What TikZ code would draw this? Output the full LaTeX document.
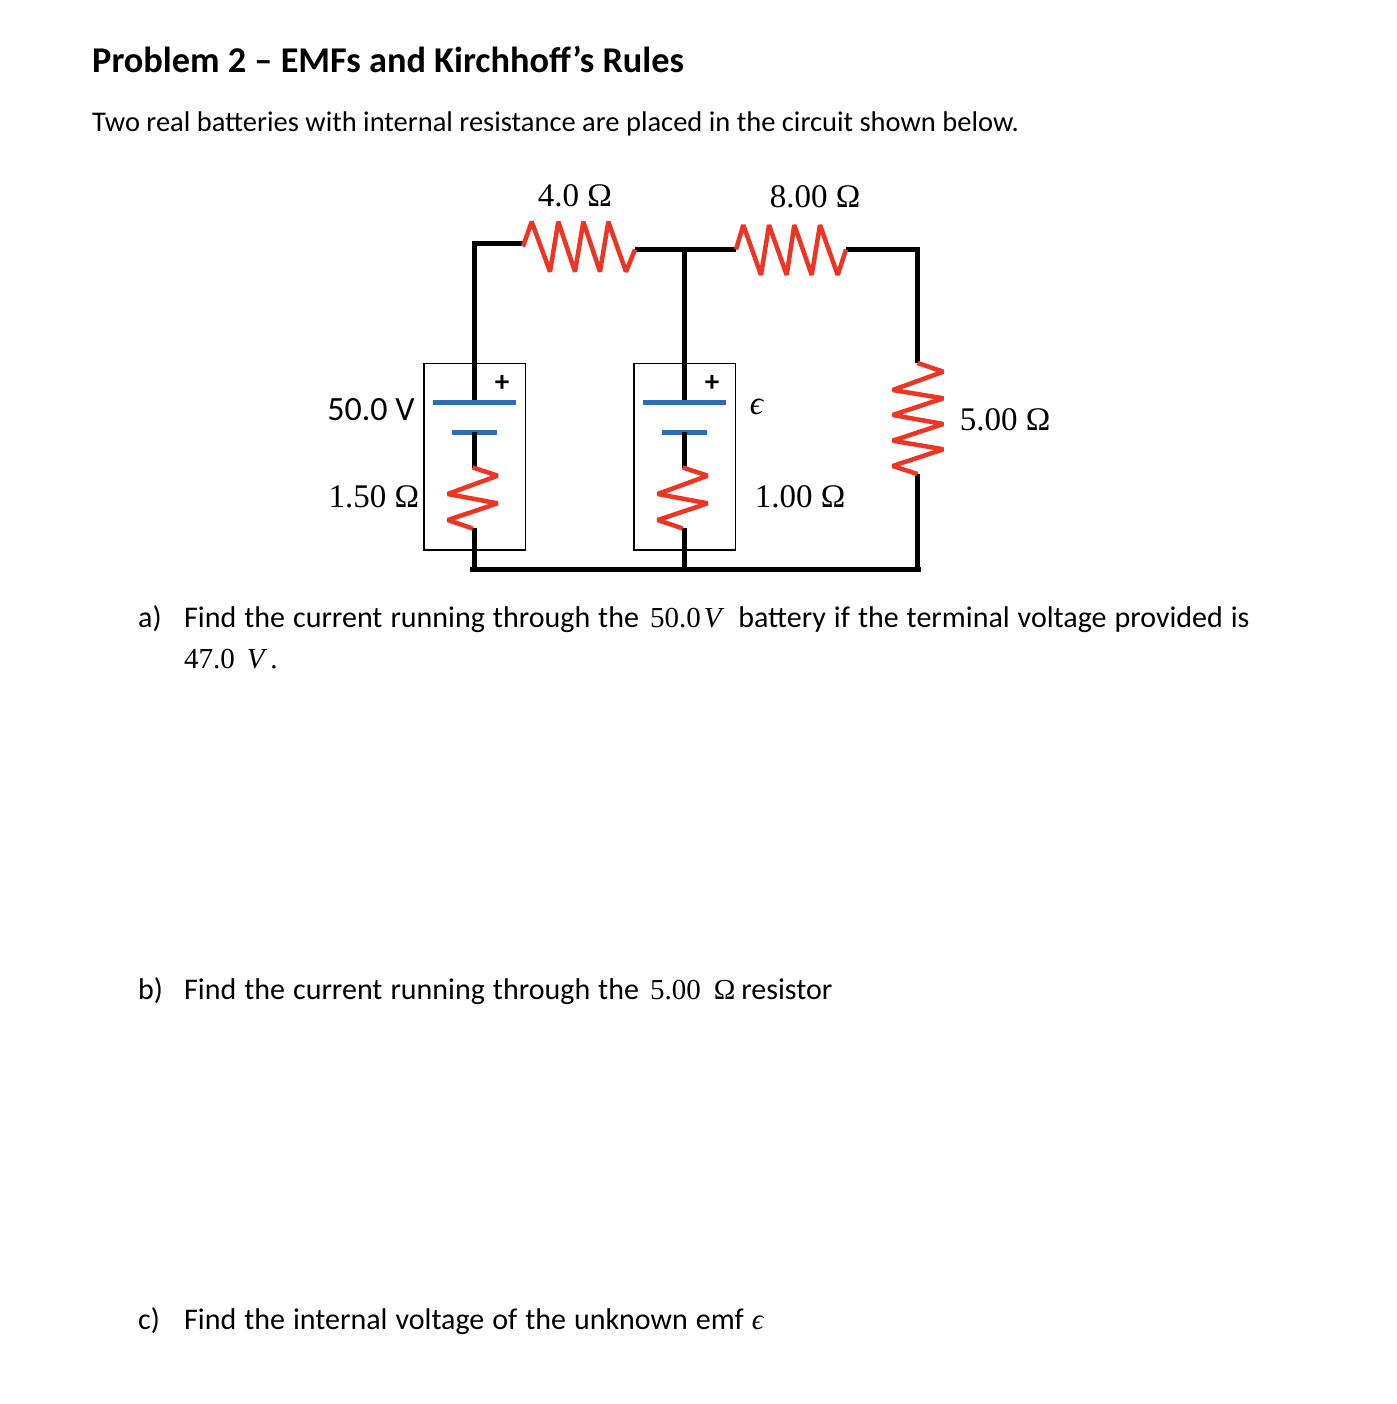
\documentclass[tikz,border=0pt]{standalone}
\usepackage{fontspec}
\setmainfont{Carlito}
\newfontfamily\cambria{Liberation Serif}
\newcommand{\qmath}[1]{{\fontsize{29}{29}\cambria\selectfont #1}}
\tikzset{
  wire/.style={line width=5pt},
  thinbox/.style={line width=1.5pt},
  zig/.style={line width=4.5pt, draw=zigred, line join=bevel},
  plate/.style={line width=5pt, draw=plateblue},
  txt/.style={anchor=base west, inner sep=0pt, font=\fontsize{28.5}{29}\selectfont},
  qtxt/.style={txt, font=\fontsize{30}{30}\selectfont\spaceskip 8pt},
  val/.style={anchor=base, inner sep=0pt, font=\fontsize{33}{33}\selectfont\cambria}
}
\definecolor{zigred}{HTML}{EE3524}
\definecolor{plateblue}{HTML}{2E6DB5}
\begin{document}
\begin{tikzpicture}[x=1pt, y=-1pt]
  \useasboundingbox (0,0) rectangle (1396,1404);
  % heading and questions
  \node[txt, font=\fontsize{36.3}{36}\selectfont\bfseries] (title) at (92,73) {Problem 2 -- EMFs and Kirchhoff’s Rules};
  \node[txt] (intro) at (92,132) {Two real batteries with internal resistance are placed in the circuit shown below.};
  \node[qtxt] (qa) at (138,627) {a)};
  \node[qtxt] (qatext) at (184,627) {Find the current running through the \hspace{3pt}\qmath{50.0\hspace{3pt}\textit{V}} \hspace{6pt}battery if the terminal voltage provided is};
  \node[qtxt] (qamore) at (184,668) {\qmath{47.0\hspace{12pt}\textit{V}\hspace{3pt}.}};
  \node[qtxt] (qb) at (138,999) {b)};
  \node[qtxt] (qbtext) at (184,999) {Find the current running through the \hspace{3pt}\qmath{5.00\hspace{13pt}Ω}\hspace{-2pt} resistor};
  \node[qtxt] (qc) at (138,1329) {c)};
  \node[qtxt] (qctext) at (184,1329) {Find the internal voltage of the unknown emf \qmath{\textit{ϵ}}};
  % corners and junctions
  \coordinate (TL) at (474.5,243.5);
  \coordinate (TLo) at (472,243.5);
  \coordinate (TM) at (684.5,249.5);
  \coordinate (TR) at (920,249.5);
  \coordinate (RT) at (917.5,251);
  \coordinate (RB) at (917.5,569.5);
  \coordinate (BL) at (470,569.5);
  \coordinate (BR) at (921,569.5);
  \coordinate (BatA) at (474.5,402);
  \coordinate (BatB) at (684.5,402);
  % series resistors
  \coordinate (RaW) at (523,243.5);
  \coordinate (RaL) at (523,246.5);
  \coordinate (RaR) at (635,249.5);
  \coordinate (RbL) at (736,249.5);
  \coordinate (RbR) at (846,249.5);
  \coordinate (RcT) at (917.5,363);
  \coordinate (RcB) at (917.5,474);
  \draw[wire] (TLo) -- (RaW);
  \draw[wire] (TL) -- (BatA);
  \draw[wire] (RaR) -- (RbL);
  \draw[wire] (RbR) -- (TR);
  \draw[wire] (TM) -- (BatB);
  \draw[wire] (RT) -- (RcT);
  \draw[wire] (RcB) -- (RB);
  \draw[wire] (BL) -- (BR);
  \draw[zig] (RaL) -- (531.7,221.7) -- (550,271.7) -- (558.3,221.7) -- (575,271.7) -- (583.3,221.7) -- (600,271.7) -- (608.3,221.7) -- (626,271.7) -- (RaR);
  \draw[zig] (RbL) -- (743.3,225) -- (761,275) -- (769,225) -- (786.7,275) -- (794.3,225) -- (811.7,275) -- (820,225) -- (837.7,275) -- (RbR);
  \draw[zig] (RcT) -- (943.3,371.7) -- (892.7,390) -- (943.3,398.3) -- (892.7,415) -- (943.3,424) -- (892.7,440.7) -- (943.3,449.3) -- (892.7,466) -- (RcB);
  % the two real batteries
  \foreach \name/\sx in {A/0, B/210} {
    \begin{scope}[xshift=\sx pt]
      \coordinate (Neg\name) at (474.5,432);
      \coordinate (Zt\name) at (472.7,467.5);
      \coordinate (Zb\name) at (472.7,528.5);
      \coordinate (Wb\name) at (474.5,528);
      \coordinate (Wt\name) at (474.5,467.5);
      \coordinate (Gnd\name) at (474.5,569.5);
      \node[thinbox, draw, minimum width=101.5pt, minimum height=186.5pt, inner sep=0pt] (Box\name) at (474.7,456.5) {};
      \draw[plate] (433,402) -- (516,402);
      \draw[plate] (452,432) -- (497,432);
      \draw[wire] (Neg\name) -- (Wt\name);
      \draw[wire] (Wb\name) -- (Gnd\name);
      \draw[zig] (Zt\name) -- (497.7,475.7) -- (447.7,494) -- (497.7,503.3) -- (447.7,520) -- (Zb\name);
      \node[inner sep=0pt, font=\fontsize{29}{29}\selectfont\bfseries] (Plus\name) at (502,383) {+};
    \end{scope}
  }
  % values
  \node[val] (ra) at (575,207) {4.0 Ω};
  \node[val] (rb) at (815,208) {8.00 Ω};
  \node[val] (rc) at (1005,430) {5.00 Ω};
  \node[val, font=\fontsize{34}{34}\selectfont] (ua) at (371,420) {50.0 V};
  \node[val] (ia) at (374,507) {1.50 Ω};
  \node[val] (ib) at (800,507) {1.00 Ω};
  \node[val] (ue) at (757,414) {\textit{ϵ}};
\end{tikzpicture}
\end{document}
